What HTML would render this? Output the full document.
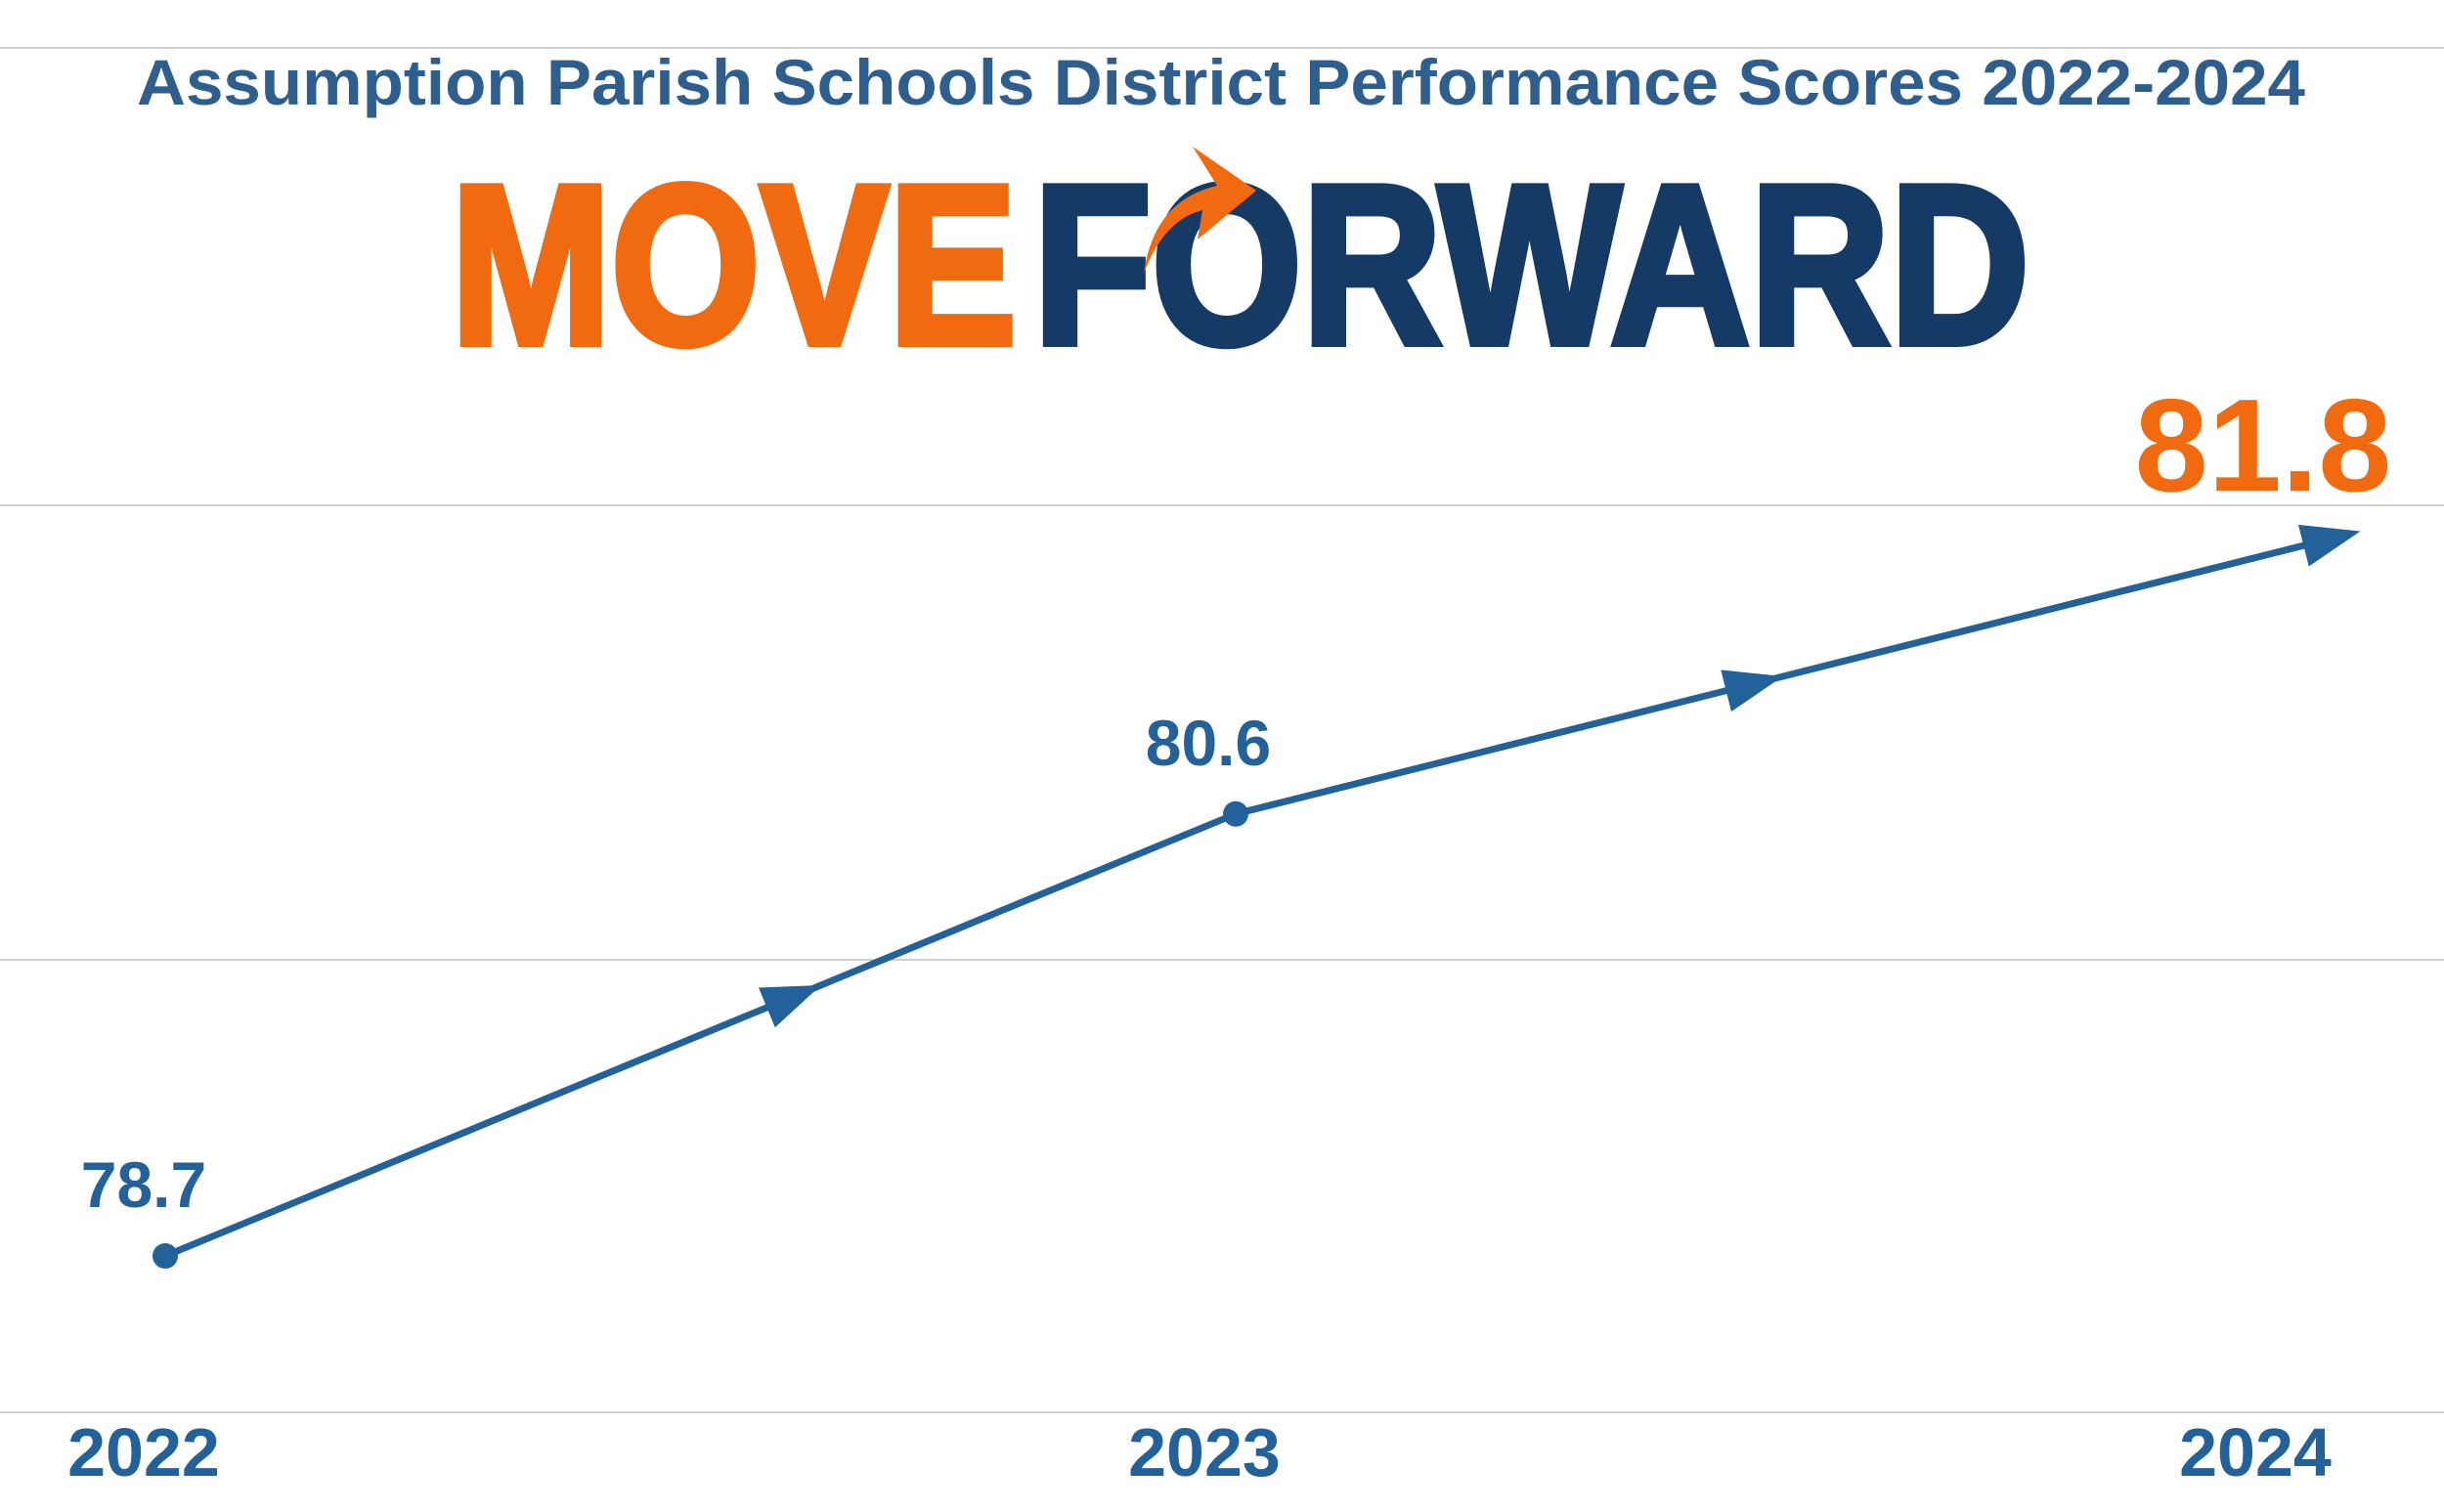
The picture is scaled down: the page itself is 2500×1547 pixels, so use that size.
<!DOCTYPE html>
<html><head><meta charset="utf-8"><style>
html,body{margin:0;padding:0;background:#fff;}
svg{display:block;}
</style></head><body>
<svg id="chart" width="2500" height="1547" viewBox="0 0 2500 1547" xmlns="http://www.w3.org/2000/svg">
<g id="grid"></g>
<text x="140" y="107" textLength="2218" lengthAdjust="spacingAndGlyphs" font-family="Liberation Sans, sans-serif" font-weight="bold" font-size="66" fill="#2d5e8e">Assumption Parish Schools District Performance Scores 2022-2024</text>
<g font-family="Liberation Sans, sans-serif" font-weight="bold" font-size="232">
<text x="461" y="351" textLength="579" lengthAdjust="spacingAndGlyphs" fill="#f26a10" stroke="#f26a10" stroke-width="8">MOVE</text>
<text x="1057" y="351" textLength="1019" lengthAdjust="spacingAndGlyphs" fill="#163a66" stroke="#163a66" stroke-width="8">FORWARD</text>
<path d="M1170 280 Q1180 205 1245 190 L1220 150 L1285 195 L1225 245 L1230 215 Q1190 225 1170 280 Z" fill="#f26a10"/>
</g>
<g id="series"></g>
<g id="xaxis"></g>
</svg>
<script>
const years = ["2022","2023","2024"];
const scores = [78.7, 80.6, 81.8];
const NS="http://www.w3.org/2000/svg";
const svg=document.getElementById('chart');
const xPos=[169,1264,2400];
function x(i){return xPos[i];}
function y(v){return 1285-(v-78.7)*238;}
function mk(tag,attrs,parent){const e=document.createElementNS(NS,tag);for(const k in attrs)e.setAttribute(k,attrs[k]);(parent||svg).appendChild(e);return e;}
const grid=document.getElementById('grid');
[49,517,982,1445].forEach(gy=>{
 const l=mk('line',{x1:0,x2:2500,y1:gy,y2:gy,stroke:'#cfcfcf','stroke-width':2},grid);
 
 
});
const s=document.getElementById('series');
const arrowT=[0.6,0.48];
for(let i=0;i<scores.length-1;i++){
 const x1=x(i),y1=y(scores[i]),x2=x(i+1),y2=y(scores[i+1]);
 const ln=mk('line',{x1:x1,y1:y1,x2:x2,y2:y2,stroke:'#22619a','stroke-width':7},s);
 
 
 const ts=[arrowT[i]];
 if(i===scores.length-2)ts.push(1);
 ts.forEach(t=>{
  const ex=x1+(x2-x1)*t,ey=y1+(y2-y1)*t,ang=Math.atan2(y2-y1,x2-x1)*180/Math.PI;
  const a=mk('path',{d:'M-45 -22 L15 0 L-45 22 Z',fill:'#22619a',transform:`translate(${ex},${ey}) rotate(${ang})`},s);
  
  
 });
}
for(let i=0;i<scores.length;i++){
 const last=i===scores.length-1;
 if(!last){
  const c=mk('circle',{cx:x(i),cy:y(scores[i]),r:13,fill:'#22619a'},s);
  
  
 }
 const t=mk('text',{x:last?x(i)-85:(i===0?147:x(i)-28),y:last?y(scores[i])-45:y(scores[i])-50,'text-anchor':'middle','font-family':'Liberation Sans, sans-serif','font-weight':'bold','font-size':last?135:66,fill:last?'#f26a10':'#22619a'},s);
 t.textContent=scores[i].toFixed(1);
 
 
}
const xa=document.getElementById('xaxis');
const labX=[147,1232,2307];
years.forEach((yr,i)=>{
 const t=mk('text',{x:labX[i],y:1510,'text-anchor':'middle','font-family':'Liberation Sans, sans-serif','font-weight':'bold','font-size':70,fill:'#22619a'},xa);
 t.textContent=yr;
 
 
});
</script>
</body></html>
